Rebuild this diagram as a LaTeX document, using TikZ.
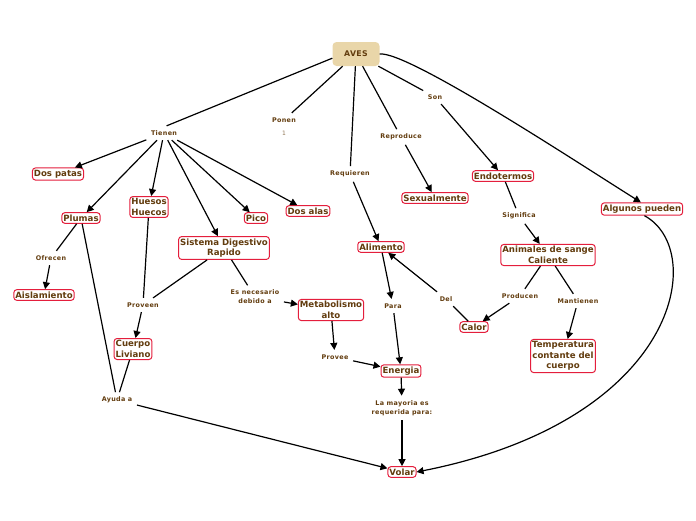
\documentclass[tikz,border=0pt]{standalone}
\usepackage{fontspec}
\setmainfont{DejaVu Sans}
\newfontfamily\lblfont{DejaVu Sans}[LetterSpace=5]
\usetikzlibrary{arrows.meta}
\definecolor{txt}{RGB}{98,60,14}
\definecolor{bord}{RGB}{228,30,60}
\definecolor{avesfill}{RGB}{233,214,169}
\tikzset{
  box/.style={draw=bord, line width=1pt, rounded corners=3pt, fill=white, text=txt,
    font=\fontsize{8.6}{10.5}\selectfont\bfseries, inner xsep=1.5pt, inner ysep=2pt, align=center},
  avesbox/.style={fill=avesfill, rounded corners=4pt, text=txt, minimum width=47pt, minimum height=24pt,
    font=\lblfont\fontsize{7.8}{9}\selectfont\bfseries},
  lab/.style={text=txt, font=\lblfont\fontsize{6.4}{9}\selectfont\bfseries, inner sep=4.5pt, align=center},
  con/.style={line width=1.2pt, black},
  arr/.style={con, -{Triangle[length=7pt,width=7pt]}}
}
\begin{document}
\begin{tikzpicture}[x=1pt,y=-1pt]
\useasboundingbox (0,0) rectangle (696,520);
% main
\node[avesbox] (aves) at (356,54) {AVES};
% labels
\node[lab] (tienen) at (164,133) {Tienen};
\node[lab] (ponen) at (284,120) {Ponen};
\node[text=txt!70, font=\fontsize{6}{7}\selectfont, inner sep=1pt] (one) at (284,133) {1};
\node[lab] (requieren) at (350,174) {Requieren};
\node[lab] (reproduce) at (401,137) {Reproduce};
\node[lab] (son) at (435,97) {Son};
\node[lab] (significa) at (519,216) {Significa};
\node[lab] (ofrecen) at (51,258) {Ofrecen};
\node[lab] (proveen) at (143,305) {Proveen};
\node[lab] (esnec) at (255,297) {Es necesario\\debido a};
\node[lab] (para) at (393,306) {Para};
\node[lab] (del) at (446,299) {Del};
\node[lab] (producen) at (520,296) {Producen};
\node[lab] (mantienen) at (578,301) {Mantienen};
\node[lab] (provee) at (335,357) {Provee};
\node[lab] (mayoria) at (402,408) {La mayoria es\\requerida para:};
\node[lab] (ayuda) at (117,400) {Ayuda a};
% boxes
\node[box] (dospatas) at (58,174) {Dos patas};
\node[box] (plumas) at (81,218) {Plumas};
\node[box] (huesos) at (149,207) {Huesos\\Huecos};
\node[box] (sistema) at (224,248) {Sistema Digestivo\\Rapido};
\node[box] (pico) at (256,218) {Pico};
\node[box] (dosalas) at (308,211) {Dos alas};
\node[box] (sexual) at (435,198) {Sexualmente};
\node[box] (endo) at (503,176) {Endotermos};
\node[box] (algunos) at (642,209) {Algunos pueden};
\node[box] (animales) at (548,255) {Animales de sange\\Caliente};
\node[box] (alimento) at (381,247) {Alimento};
\node[box] (aisl) at (44,295) {Aislamiento};
\node[box] (metab) at (331,310) {Metabolismo\\alto};
\node[box] (calor) at (474,327) {Calor};
\node[box] (temp) at (563,356) {Temperatura\\contante del\\cuerpo};
\node[box] (cuerpo) at (133,349) {Cuerpo\\Liviano};
\node[box] (energia) at (401,371) {Energia};
\node[box] (volar) at (402,472) {Volar};
% connectors from AVES
\draw[con] (aves.190) -- (tienen.70);
\draw[con] (aves) -- (ponen);
\draw[con] (aves) -- (requieren);
\draw[con] (aves) -- (reproduce);
\draw[con] (aves) -- (son);
\draw[arr] (aves.east) .. controls +(28,-3) and +(-70,-44) .. (algunos.100);
% Tienen fan
\draw[arr] (tienen) -- (dospatas);
\draw[arr] (tienen) -- (plumas);
\draw[arr] (tienen) -- (huesos);
\draw[arr] (tienen) -- (sistema);
\draw[arr] (tienen) -- (pico);
\draw[arr] (tienen) -- (dosalas);
% others
\draw[arr] (requieren) -- (alimento);
\draw[arr] (reproduce) -- (sexual);
\draw[arr] (son) -- (endo);
\draw[con] (endo) -- (significa);
\draw[arr] (significa) -- (animales);
\draw[arr] (algunos.-70) .. controls (708,250) and (680,420) .. (volar.east);
\draw[con] (plumas) -- (ofrecen);
\draw[arr] (ofrecen) -- (aisl);
\draw[con] (plumas) -- (ayuda);
\draw[con] (huesos) -- (proveen);
\draw[con] (sistema) -- (proveen);
\draw[arr] (proveen) -- (cuerpo);
\draw[con] (cuerpo) -- (ayuda);
\draw[arr] (ayuda) -- (volar);
\draw[con] (sistema) -- (esnec);
\draw[arr] (esnec) -- (metab);
\draw[arr] (metab) -- (provee);
\draw[arr] (provee) -- (energia);
\draw[arr] (alimento) -- (para);
\draw[arr] (para) -- (energia);
\draw[con] (calor) -- (del);
\draw[arr] (del) -- (alimento);
\draw[con] (animales) -- (producen);
\draw[arr] (producen) -- (calor);
\draw[con] (animales) -- (mantienen);
\draw[arr] (mantienen) -- (temp);
\draw[arr] (energia) -- (mayoria);
\draw[arr] (mayoria) -- (volar);
\end{tikzpicture}
\end{document}
